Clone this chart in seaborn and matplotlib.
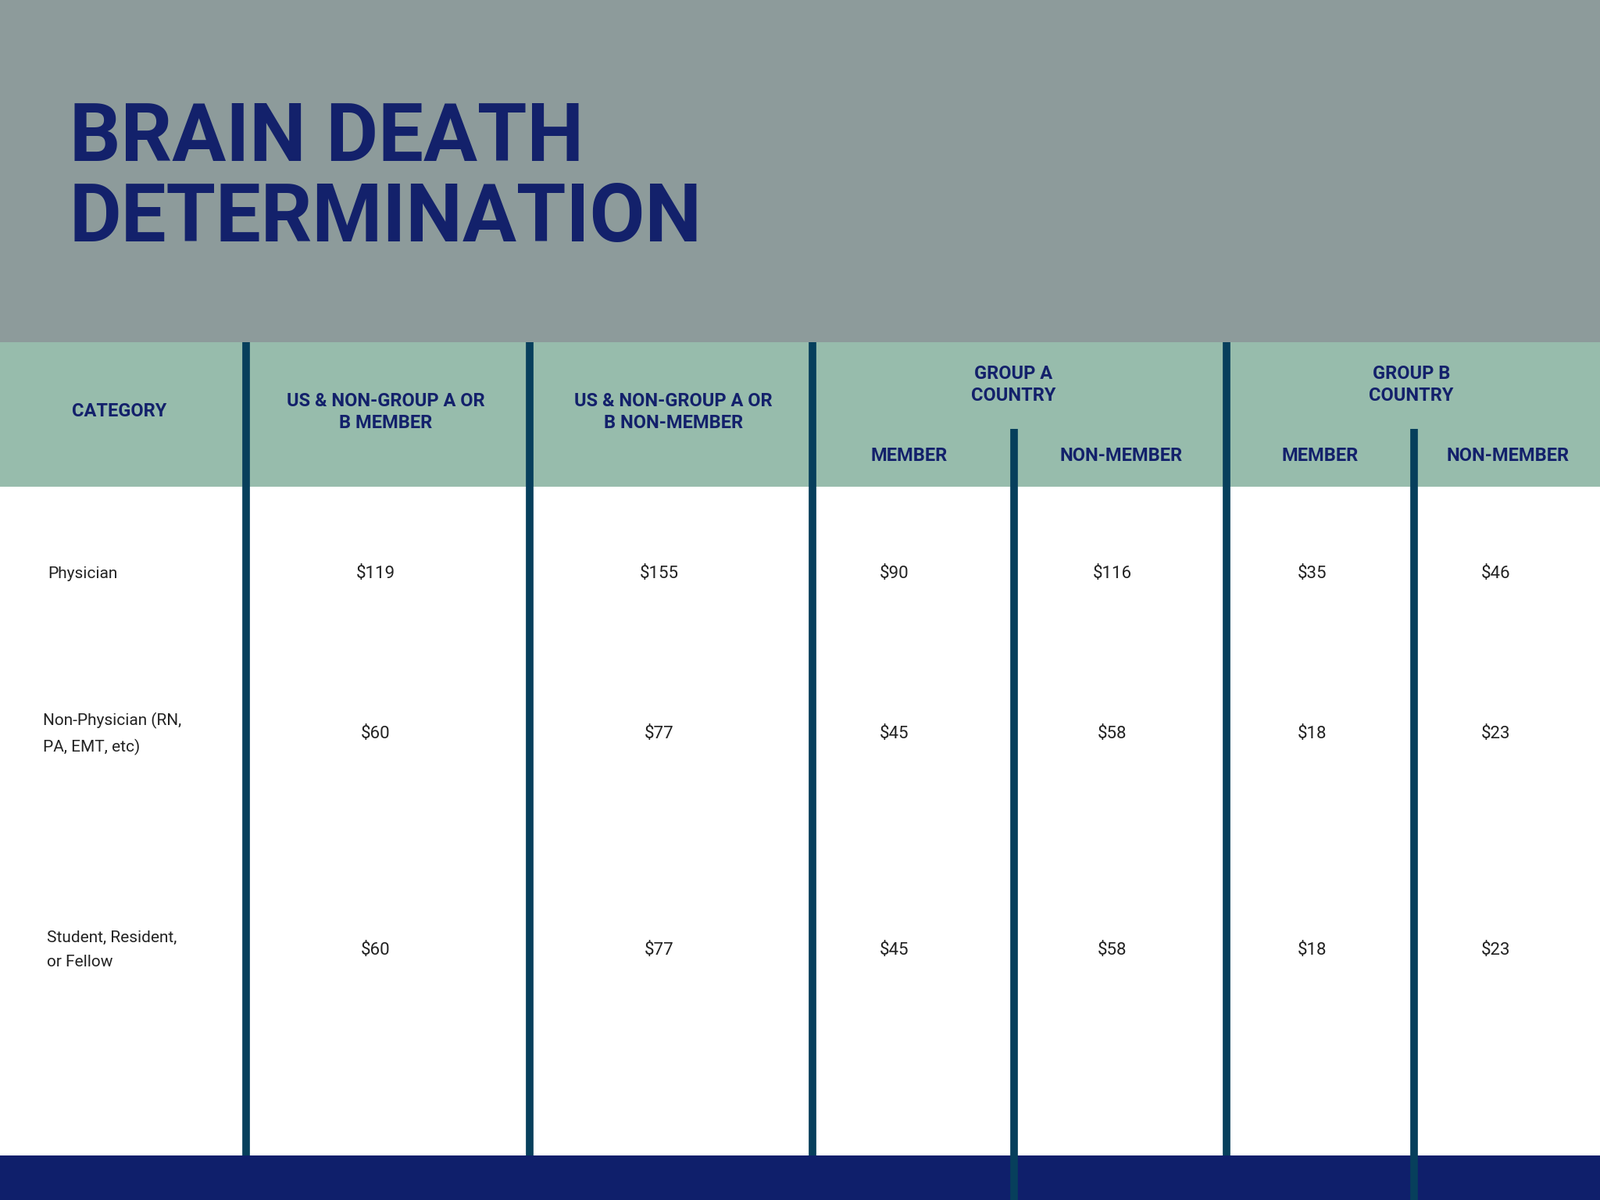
import matplotlib.pyplot as plt
import seaborn as sns

sns.set_theme(style="white")

title = "BRAIN DEATH\nDETERMINATION"
categories = ["Physician", "Non-Physician (RN,\nPA, EMT, etc)", "Student, Resident,\nor Fellow"]
col_headers = ["US & NON-GROUP A OR\nB MEMBER", "US & NON-GROUP A OR\nB NON-MEMBER"]
group_headers = ["GROUP A\nCOUNTRY", "GROUP B\nCOUNTRY"]
sub_headers = ["MEMBER", "NON-MEMBER", "MEMBER", "NON-MEMBER"]
values = [
    ["$119", "$155", "$90", "$116", "$35", "$46"],
    ["$60", "$77", "$45", "$58", "$18", "$23"],
    ["$60", "$77", "$45", "$58", "$18", "$23"],
]

navy = "#13216b"
line_c = "#073f5c"
W, H = 1568, 1176

fig = plt.figure(figsize=(20.48, 15.36), dpi=100)
ax = fig.add_axes([0, 0, 1, 1])
ax.set_xlim(0, W)
ax.set_ylim(H, 0)
ax.axis("off")

# bands
ax.axhspan(0, 335, color="#8d9b9b", lw=0)
ax.axhspan(335, 477, color="#97bcac", lw=0)
ax.axhspan(1132, H, color="#0f1f6b", lw=0)

# vertical dividers
for x in [241, 519, 796, 1202]:
    ax.plot([x, x], [335, 1132], color=line_c, lw=7, solid_capstyle="butt")
for x in [994, 1386]:
    ax.plot([x, x], [420, H], color=line_c, lw=7, solid_capstyle="butt")

ax.text(68, 175, title, color=navy, fontsize=74, fontweight="bold",
        family="Roboto", va="center", ha="left", linespacing=1.05)

hkw = dict(color=navy, fontsize=17, fontweight="bold", family="Roboto",
           ha="center", va="center", linespacing=1.3)
ax.text(117, 403, "CATEGORY", **hkw)
for x, t in zip([378, 660], col_headers):
    ax.text(x, 404, t, **hkw)
for x, t in zip([993, 1383], group_headers):
    ax.text(x, 377, t, **hkw)
for x, t in zip([891, 1099, 1294, 1478], sub_headers):
    ax.text(x, 447, t, **hkw)

row_y = [562, 719, 931]
cat_x = [47, 42, 46]
val_x = [368, 646, 876, 1090, 1286, 1466]
for cy, cx, cat, row in zip(row_y, cat_x, categories, values):
    ax.text(cx, cy, cat, color="#222222", fontsize=15, family="Roboto",
            ha="left", va="center", linespacing=1.8)
    for vx, v in zip(val_x, row):
        ax.text(vx, cy, v, color="#222222", fontsize=16, family="Roboto",
                ha="center", va="center")

fig.savefig("out.png", dpi=100)
